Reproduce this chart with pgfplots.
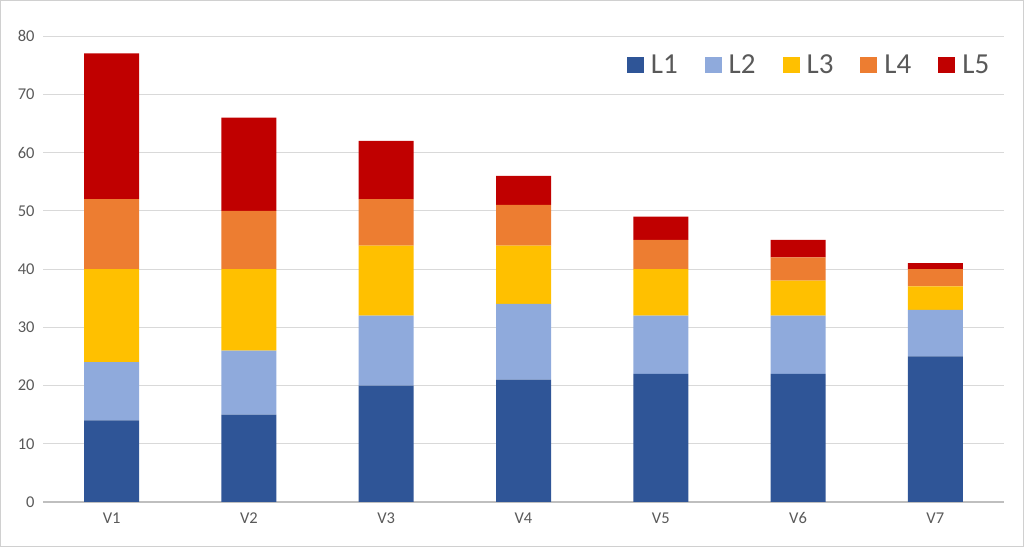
\documentclass[border=0pt]{standalone}
\usepackage{fontspec}
\setmainfont{Carlito}
\usepackage{pgfplots}
\pgfplotsset{compat=1.18}
\definecolor{cL1}{HTML}{2F5597}
\definecolor{cL2}{HTML}{8FAADC}
\definecolor{cL3}{HTML}{FFC000}
\definecolor{cL4}{HTML}{ED7D31}
\definecolor{cL5}{HTML}{C00000}
\definecolor{gridc}{HTML}{D9D9D9}
\definecolor{axisc}{HTML}{BFBFBF}
\definecolor{labc}{HTML}{595959}
\definecolor{framec}{HTML}{D0D0D0}
\begin{document}
\begin{tikzpicture}
\draw[color=framec, line width=1bp] (0.5bp,0.5bp) rectangle (1023.5bp,546.5bp);
\begin{axis}[
  at={(43bp,45bp)}, anchor=south west,
  scale only axis, width=961bp, height=466bp,
  ybar stacked, bar width=55bp,
  xmin=-0.5, xmax=6.5, ymin=0, ymax=80,
  ytick={0,10,...,80},
  xtick={0,...,6}, xticklabels={V1,V2,V3,V4,V5,V6,V7},
  ymajorgrids, grid style={color=gridc, line width=1bp},
  major tick length=0,
  axis x line*=bottom, axis y line*=left,
  y axis line style={draw=none},
  x axis line style={draw=axisc, line width=1.5bp},
  tick label style={font=\fontsize{16.5bp}{18bp}\selectfont, text=labc},
  /pgf/number format/assume math mode=true,
  yticklabel style={xshift=-5bp},
  xticklabel style={yshift=-7bp},
  legend style={at={(0.99,0.938)}, anchor=east, draw=none, fill=none,
    font=\fontsize{29bp}{32bp}\selectfont, text=labc,
    /tikz/every odd column/.append style={column sep=5bp},
    /tikz/every even column/.append style={column sep=25bp}},
  legend columns=5,
  legend image code/.code={\fill[#1] (0bp,-8bp) rectangle (17bp,8bp);},
]
\addplot[fill=cL1, draw=none] coordinates {(0,14) (1,15) (2,20) (3,21) (4,22) (5,22) (6,25)};
\addplot[fill=cL2, draw=none] coordinates {(0,10) (1,11) (2,12) (3,13) (4,10) (5,10) (6,8)};
\addplot[fill=cL3, draw=none] coordinates {(0,16) (1,14) (2,12) (3,10) (4,8) (5,6) (6,4)};
\addplot[fill=cL4, draw=none] coordinates {(0,12) (1,10) (2,8) (3,7) (4,5) (5,4) (6,3)};
\addplot[fill=cL5, draw=none] coordinates {(0,25) (1,16) (2,10) (3,5) (4,4) (5,3) (6,1)};
\legend{L1,L2,L3,L4,L5}
\end{axis}
\end{tikzpicture}
\end{document}
